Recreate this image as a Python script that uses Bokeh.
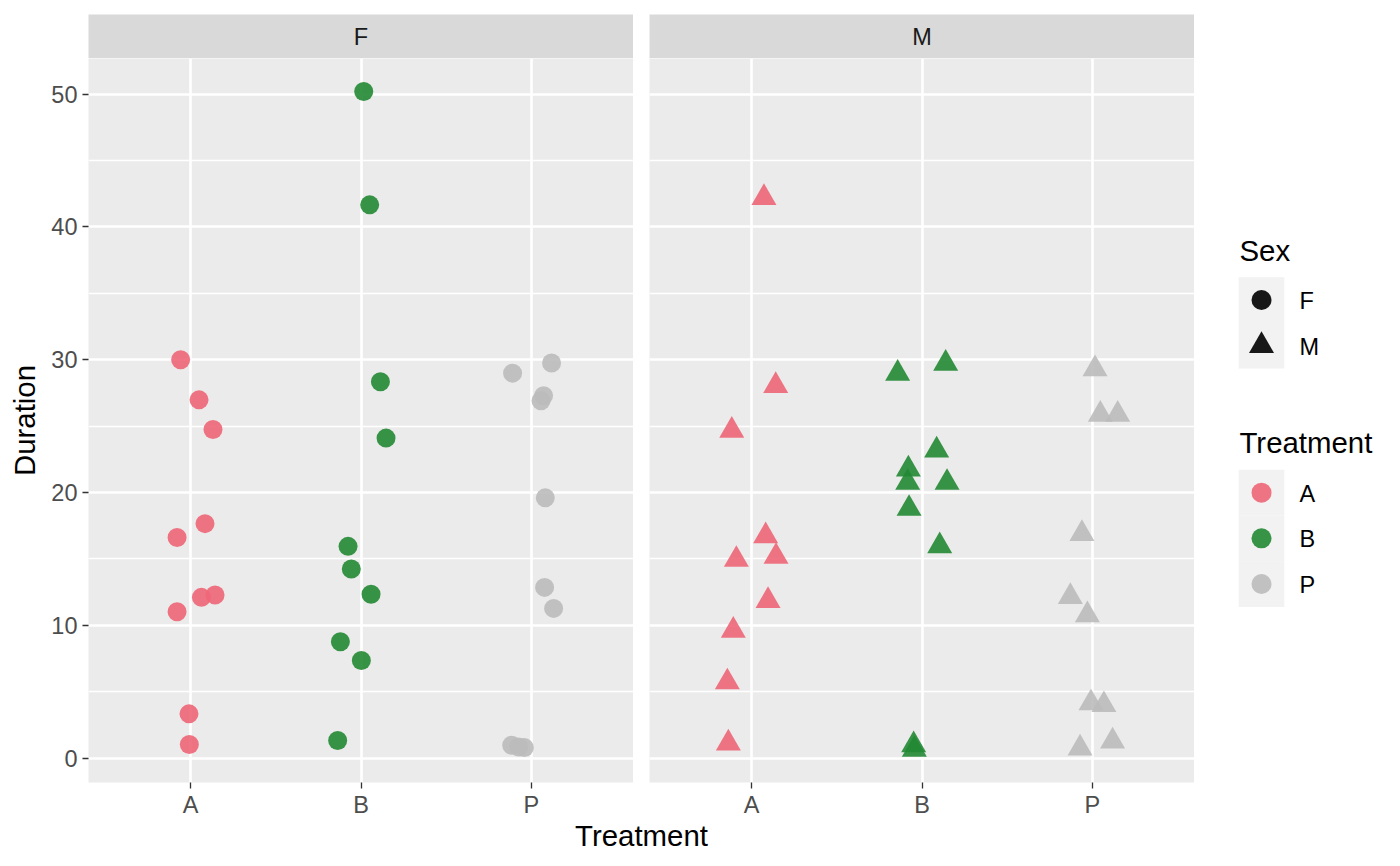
import numpy as np
from bokeh.plotting import figure
from bokeh.models import Range1d, FixedTicker, Label, ColumnDataSource, Grid
from bokeh.layouts import row, column
from bokeh.embed import file_html
from bokeh.resources import INLINE
from bokeh.core.properties import value

# ---------------- data ----------------
treatments = ["A", "B", "P"]
sexes = ["F", "M"]
treatment_colors = ["#EE6677", "#228833", "#BBBBBB"]
sex_markers = ["circle", "triangle"]
y_ticks = [0, 10, 20, 30, 40, 50]
y_minor = [5, 15, 25, 35, 45]

dur_F_A = [30.0, 26.98, 24.75, 17.66, 16.61, 12.11, 12.29, 11.03, 3.34, 1.03]
jit_F_A = [-0.059, 0.049, 0.131, 0.084, -0.080, 0.063, 0.143, -0.080, -0.010, -0.008]
dur_F_B = [50.2, 41.66, 28.34, 24.10, 15.95, 14.25, 12.34, 8.77, 7.36, 1.33]
jit_F_B = [0.016, 0.051, 0.114, 0.147, -0.076, -0.057, 0.059, -0.121, 0.002, -0.137]
dur_F_P = [29.75, 28.99, 27.29, 26.91, 19.60, 12.86, 11.28, 0.98, 0.85, 0.80]
jit_F_P = [0.119, -0.110, 0.072, 0.057, 0.082, 0.078, 0.131, -0.115, -0.074, -0.041]

dur_M_A = [42.19, 28.04, 24.67, 16.73, 15.18, 14.95, 11.86, 9.62, 5.73, 1.13]
jit_M_A = [0.072, 0.141, -0.117, 0.082, 0.143, -0.090, 0.096, -0.108, -0.143, -0.137]
dur_M_B = [29.72, 28.97, 23.19, 21.76, 20.75, 20.75, 18.79, 15.98, 1.00, 0.65]
jit_M_B = [0.139, -0.143, 0.086, -0.080, -0.084, 0.147, -0.076, 0.104, -0.049, -0.045]
dur_M_P = [29.30, 25.88, 25.88, 16.90, 12.16, 10.78, 4.15, 4.02, 1.28, 0.75]
jit_M_P = [0.016, 0.047, 0.149, -0.061, -0.129, -0.029, -0.008, 0.068, 0.119, -0.072]

series = {
    "F": [(dur_F_A, jit_F_A), (dur_F_B, jit_F_B), (dur_F_P, jit_F_P)],
    "M": [(dur_M_A, jit_M_A), (dur_M_B, jit_M_B), (dur_M_P, jit_M_P)],
}

# ---------------- style ----------------
FONT = "Liberation Sans"
TEXT_PX = "23.5px"
TITLE_PX = "29.4px"
PANEL_W = 545
FRAME_H = 726
LEFT_F = 88
GAP = 16
STRIP_TOP = 14
STRIP_H = 44
BOTTOM = 36
XLAB_H = 40
ALPHA = 0.9

all_y = np.concatenate([np.array(d) for s in sexes for d, _ in series[s]])
ymin, ymax = all_y.min(), all_y.max()
pad = 0.05 * (ymax - ymin)
y_range = Range1d(ymin - pad, ymax + pad)


def strip_grids(p):
    p.center = [r for r in p.center if not isinstance(r, Grid)]


def make_strip(label, left):
    s = figure(width=left + PANEL_W, height=STRIP_TOP + STRIP_H, x_range=Range1d(0, 1),
               y_range=Range1d(0, 1), x_axis_location=None, y_axis_location=None,
               min_border_left=left, min_border_right=0, min_border_top=STRIP_TOP,
               min_border_bottom=0, background_fill_color="#D9D9D9", border_fill_color="white",
               outline_line_color=None, toolbar_location=None, output_backend="svg")
    strip_grids(s)
    s.add_layout(Label(x=0.5, y=0.5, text=label, text_align="center", text_baseline="middle",
                       text_font=FONT, text_font_size=TEXT_PX, text_color="#1A1A1A"))
    return s


def make_panel(sex_idx, show_y):
    sex = sexes[sex_idx]
    left = LEFT_F if show_y else GAP
    p = figure(width=left + PANEL_W, height=FRAME_H + BOTTOM,
               x_range=Range1d(0.4, 3.6), y_range=y_range,
               x_axis_location="below", y_axis_location="left" if show_y else None,
               min_border_left=left, min_border_right=0, min_border_top=0,
               min_border_bottom=BOTTOM, background_fill_color="#EBEBEB",
               border_fill_color="white", outline_line_color=None,
               toolbar_location=None, output_backend="svg")
    strip_grids(p)
    p.add_layout(Grid(dimension=0, ticker=FixedTicker(ticks=[1, 2, 3]),
                      grid_line_color="white", grid_line_width=2.6))
    p.add_layout(Grid(dimension=1, ticker=FixedTicker(ticks=y_ticks, minor_ticks=y_minor),
                      grid_line_color="white", grid_line_width=2.6,
                      minor_grid_line_color="white", minor_grid_line_width=1.3))

    xs, ys, cols = [], [], []
    for ti, (d, j) in enumerate(series[sex]):
        for dv, jv in zip(d, j):
            xs.append(ti + 1 + jv)
            ys.append(dv)
            cols.append(treatment_colors[ti])
    src = ColumnDataSource(dict(x=xs, y=ys, c=cols))
    size = 19 if sex_markers[sex_idx] == "circle" else 25
    p.scatter("x", "y", source=src, marker=sex_markers[sex_idx], size=size,
              fill_color="c", fill_alpha=ALPHA, line_color=None)

    axes = [p.xaxis[0]] + ([p.yaxis[0]] if show_y else [])
    for ax in axes:
        ax.axis_line_color = None
        ax.major_tick_line_color = "#333333"
        ax.major_tick_line_width = 1.3
        ax.major_tick_out = 6
        ax.major_tick_in = 0
        ax.minor_tick_out = 0
        ax.minor_tick_in = 0
        ax.major_label_text_font = FONT
        ax.major_label_text_font_size = TEXT_PX
        ax.major_label_text_color = "#4D4D4D"
    p.xaxis.ticker = FixedTicker(ticks=[1, 2, 3])
    p.xaxis.major_label_overrides = {i + 1: t for i, t in enumerate(treatments)}
    p.xaxis.major_label_standoff = 3
    if show_y:
        p.yaxis.ticker = FixedTicker(ticks=y_ticks)
        p.yaxis.major_label_standoff = 5
        p.yaxis.axis_label = "Duration"
        p.yaxis.axis_label_text_font = FONT
        p.yaxis.axis_label_text_font_size = TITLE_PX
        p.yaxis.axis_label_text_font_style = "normal"
        p.yaxis.axis_label_text_color = "black"
        p.yaxis.axis_label_standoff = 7
    return p


strip_F = make_strip("F", LEFT_F)
strip_M = make_strip("M", GAP)
panel_F = make_panel(0, True)
panel_M = make_panel(1, False)

total_w = LEFT_F + PANEL_W + GAP + PANEL_W
xl = figure(width=total_w, height=XLAB_H, x_range=Range1d(0, total_w), y_range=Range1d(XLAB_H, 0),
            x_axis_location=None, y_axis_location=None, min_border_left=0, min_border_right=0,
            min_border_top=0, min_border_bottom=0, outline_line_color=None,
            toolbar_location=None, output_backend="svg", background_fill_color="white")
strip_grids(xl)
xl.add_layout(Label(x=(LEFT_F + total_w) / 2, y=15, text="Treatment", text_align="center",
                    text_baseline="middle", text_font=FONT, text_font_size=TITLE_PX,
                    text_color="black"))

# ---------------- legend ----------------
LEG_W = 190
LEG_H = STRIP_TOP + STRIP_H + FRAME_H + BOTTOM + XLAB_H
lg = figure(width=LEG_W, height=LEG_H, x_range=Range1d(0, LEG_W), y_range=Range1d(LEG_H, 0),
            x_axis_location=None, y_axis_location=None, min_border_left=0, min_border_right=0,
            min_border_top=0, min_border_bottom=0, outline_line_color=None,
            toolbar_location=None, output_backend="svg", background_fill_color="white")
strip_grids(lg)
KEY_X, KEY = 67, 45.7
LAB_X, TIT_X = 105, 45


def legend_block(title, title_mid, key_top, labels, markers, colors, sizes):
    lg.text(x=[TIT_X], y=[title_mid], text=[title], text_font=value(FONT),
            text_font_size=value(TITLE_PX), text_baseline="middle", text_color="black")
    n = len(labels)
    cy = [key_top + KEY * (i + 0.5) for i in range(n)]
    lg.rect(x=[KEY_X] * n, y=cy, width=KEY, height=KEY, fill_color="#F2F2F2", line_color=None)
    for i in range(n):
        lg.scatter(x=[KEY_X], y=[cy[i]], marker=markers[i], size=sizes[i],
                   fill_color=colors[i], fill_alpha=ALPHA, line_color=None)
    lg.text(x=[LAB_X] * n, y=[c + 1 for c in cy], text=labels, text_font=value(FONT),
            text_font_size=value(TEXT_PX), text_baseline="middle", text_color="black")


legend_block("Sex", 250, 276.7, sexes, sex_markers, ["black", "black"], [20, 25])
legend_block("Treatment", 441.7, 469.3, treatments, ["circle"] * 3, treatment_colors, [20] * 3)

layout = row(column(row(strip_F, strip_M), row(panel_F, panel_M), xl), lg)

open("out.html", "w").write(file_html(layout, INLINE, title="Duration by Treatment"))
